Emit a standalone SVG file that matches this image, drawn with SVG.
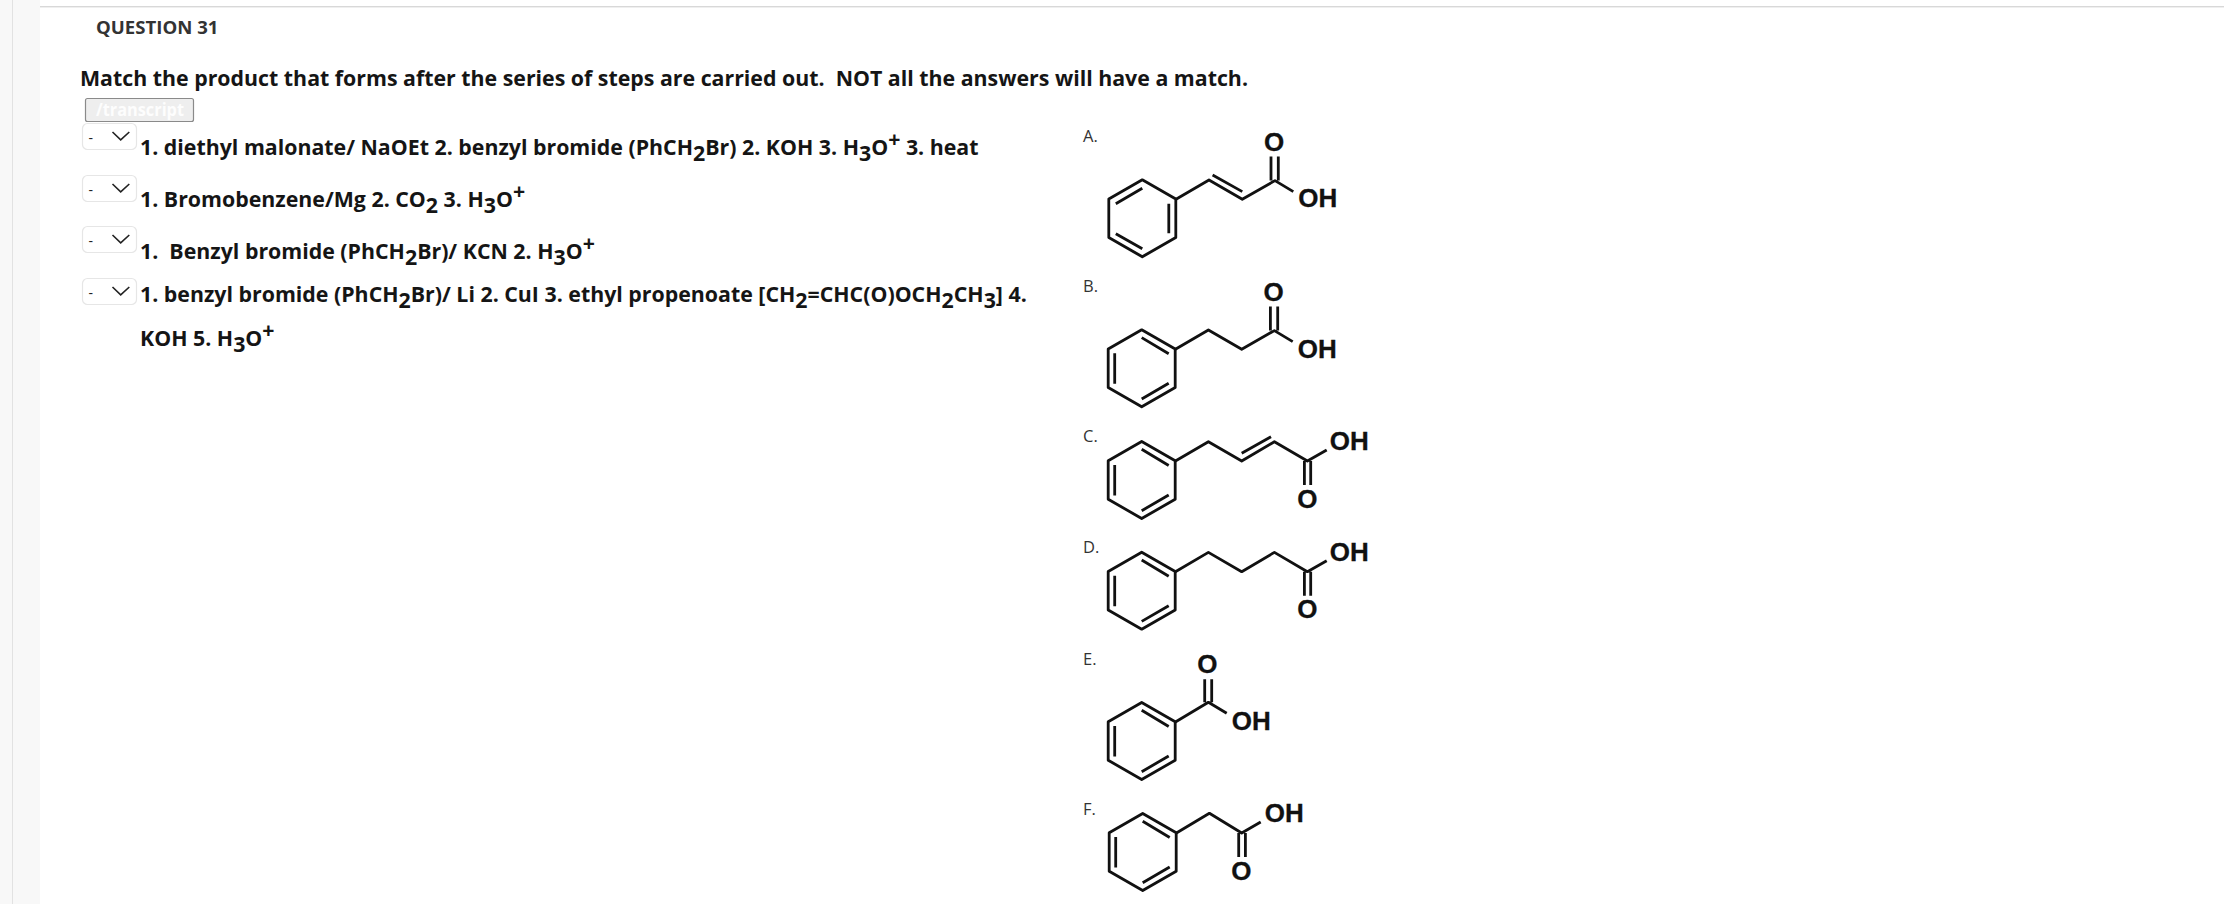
<svg xmlns="http://www.w3.org/2000/svg" width="2224" height="904" viewBox="0 0 2224 904">
<style>
.q{font-family:"Open Sans",sans-serif;font-weight:700;font-size:21.33px;fill:#151515}
.h{font-family:"Open Sans",sans-serif;font-weight:700;font-size:18.6px;fill:#333}
.l{font-family:"Open Sans",sans-serif;font-size:16.5px;fill:#333}
.b{fill:none;stroke:#111;stroke-width:2.8;stroke-linejoin:round}
.c{font-family:"Liberation Sans",Arial,sans-serif;font-weight:700;font-size:26px;fill:#111;stroke:#111;stroke-width:.3}
.dd{fill:#fff;stroke:#e6e6e6;stroke-width:1.2}
.ch{fill:none;stroke:#222;stroke-width:1.6}
.dash{font-family:"Open Sans",sans-serif;font-size:14px;fill:#222}
</style>
<defs>
<path id="ringA" class="b" d="M0-38.5L33.5-19.25V19.25L0 38.5-33.5 19.25V-19.25ZM-26.5-14.5L0-30M26.5-14.5V15M-26.5 15.5L0 30.5"/>
<path id="ringB" class="b" d="M0-38.5L33.5-19.25V19.25L0 38.5-33.5 19.25V-19.25ZM0-30.7L27-14.5M-27-15V15.5M0 30.7L27 15"/>
<g id="dropdown"><rect class="dd" x="0" y="0" width="54" height="26" rx="5"/><path class="ch" d="M30 8.5l8.2 7.8L46.8 8.5"/><text class="dash" x="6" y="19">-</text></g>
</defs>
<rect width="2224" height="904" fill="#fff"/>
<rect x="0" y="0" width="40" height="904" fill="#f8f8f8"/>
<rect x="12" y="0" width="1" height="904" fill="#e2e2e2"/>
<rect x="40" y="6" width="2184" height="1.4" fill="#d8d8d8"/>
<text class="h" x="96" y="33.5">QUESTION 31</text>
<text class="q" x="80" y="86" xml:space="preserve">Match the product that forms after the series of steps are carried out.  NOT all the answers will have a match.</text>
<g id="transcript"><rect x="85.5" y="98.5" width="108" height="23" rx="2" fill="#eee" stroke="#8a8a8a" stroke-width="1.2"/><text x="96" y="115.5" font-family="'Open Sans',sans-serif" font-weight="700" font-size="18" fill="#fdfdfd" textLength="88" lengthAdjust="spacingAndGlyphs">/transcript</text></g>
<use href="#dropdown" x="82.5" y="123.5"/>
<use href="#dropdown" x="82.5" y="175.5"/>
<use href="#dropdown" x="82.5" y="226.5"/>
<use href="#dropdown" x="82.5" y="278.5"/>
<text class="q" x="140" y="155">1. diethyl malonate/ NaOEt 2. benzyl bromide (PhCH<tspan dy="6">2</tspan><tspan dy="-6">Br) 2. KOH 3. H</tspan><tspan dy="6">3</tspan><tspan dy="-6">O</tspan><tspan dy="-8">+</tspan><tspan dy="8"> 3. heat</tspan></text>
<text class="q" x="140" y="207">1. Bromobenzene/Mg 2. CO<tspan dy="6">2</tspan><tspan dy="-6"> 3. H</tspan><tspan dy="6">3</tspan><tspan dy="-6">O</tspan><tspan dy="-8">+</tspan></text>
<text class="q" x="140" y="259.3" xml:space="preserve">1.  Benzyl bromide (PhCH<tspan dy="6">2</tspan><tspan dy="-6">Br)/ KCN 2. H</tspan><tspan dy="6">3</tspan><tspan dy="-6">O</tspan><tspan dy="-8">+</tspan></text>
<text class="q" x="140" y="301.7">1. benzyl bromide (PhCH<tspan dy="6">2</tspan><tspan dy="-6">Br)/ Li 2. CuI 3. ethyl propenoate [CH</tspan><tspan dy="6">2</tspan><tspan dy="-6">=CHC(O)OCH</tspan><tspan dy="6">2</tspan><tspan dy="-6">CH</tspan><tspan dy="6">3</tspan><tspan dy="-6">] 4.</tspan></text>
<text class="q" x="140" y="345.5">KOH 5. H<tspan dy="6">3</tspan><tspan dy="-6">O</tspan><tspan dy="-8">+</tspan></text>
<g id="optA"><text class="l" x="1083" y="141.5">A.</text><g transform="translate(1142.3 218.3)"><use href="#ringA"/><path class="b" d="M33.7-19L66.7-38.3 100-19 132.7-37.7 151-26.7M70.3-43.3L100-26.7M128.7-37.7V-61.7M136-37.7V-61.7"/><text class="c" x="131.7" y="-67.5" text-anchor="middle">O</text><text class="c" x="156" y="-11.5">OH</text></g></g>
<g id="optB"><text class="l" x="1083" y="291.5">B.</text><g transform="translate(1141.7 368.3)"><use href="#ringB"/><path class="b" d="M33.7-19L66.7-38.3 100-19 132.7-37.7 151-26.7M128.7-37.7V-61.7M136-37.7V-61.7"/><text class="c" x="132" y="-67.5" text-anchor="middle">O</text><text class="c" x="156" y="-10.5">OH</text></g></g>
<g id="optC"><text class="l" x="1083" y="441.5">C.</text><g transform="translate(1141.7 480)"><use href="#ringB"/><path class="b" d="M33.7-19L66.7-38.3 100-19 132.7-38.3 165.7-19 185-30M100-26.7L129.3-43.3M162.7-19V5M169-19V5"/><text class="c" x="165.7" y="27.5" text-anchor="middle">O</text><text class="c" x="188" y="-30">OH</text></g></g>
<g id="optD"><text class="l" x="1083" y="552.5">D.</text><g transform="translate(1141.7 590.7)"><use href="#ringB"/><path class="b" d="M33.7-19L66.7-38.3 100-19 132.7-38.3 165.7-19 185-30M162.7-19V5M169-19V5"/><text class="c" x="165.7" y="27.5" text-anchor="middle">O</text><text class="c" x="188" y="-30">OH</text></g></g>
<g id="optE"><text class="l" x="1083" y="664.5">E.</text><g transform="translate(1141.7 741)"><use href="#ringB"/><path class="b" d="M33.7-19L66.7-38.7 85-27.7M63-38.7V-61.7M70-38.7V-61.7"/><text class="c" x="65.7" y="-68.5" text-anchor="middle">O</text><text class="c" x="90" y="-11.5">OH</text></g></g>
<g id="optF"><text class="l" x="1083" y="814.5">F.</text><g transform="translate(1142.7 852)"><use href="#ringB"/><path class="b" d="M33.7-19L66.7-38.7 99-19 118-30M96-19V5M102.7-19V5"/><text class="c" x="98.7" y="27.5" text-anchor="middle">O</text><text class="c" x="122" y="-30">OH</text></g></g>
</svg>
